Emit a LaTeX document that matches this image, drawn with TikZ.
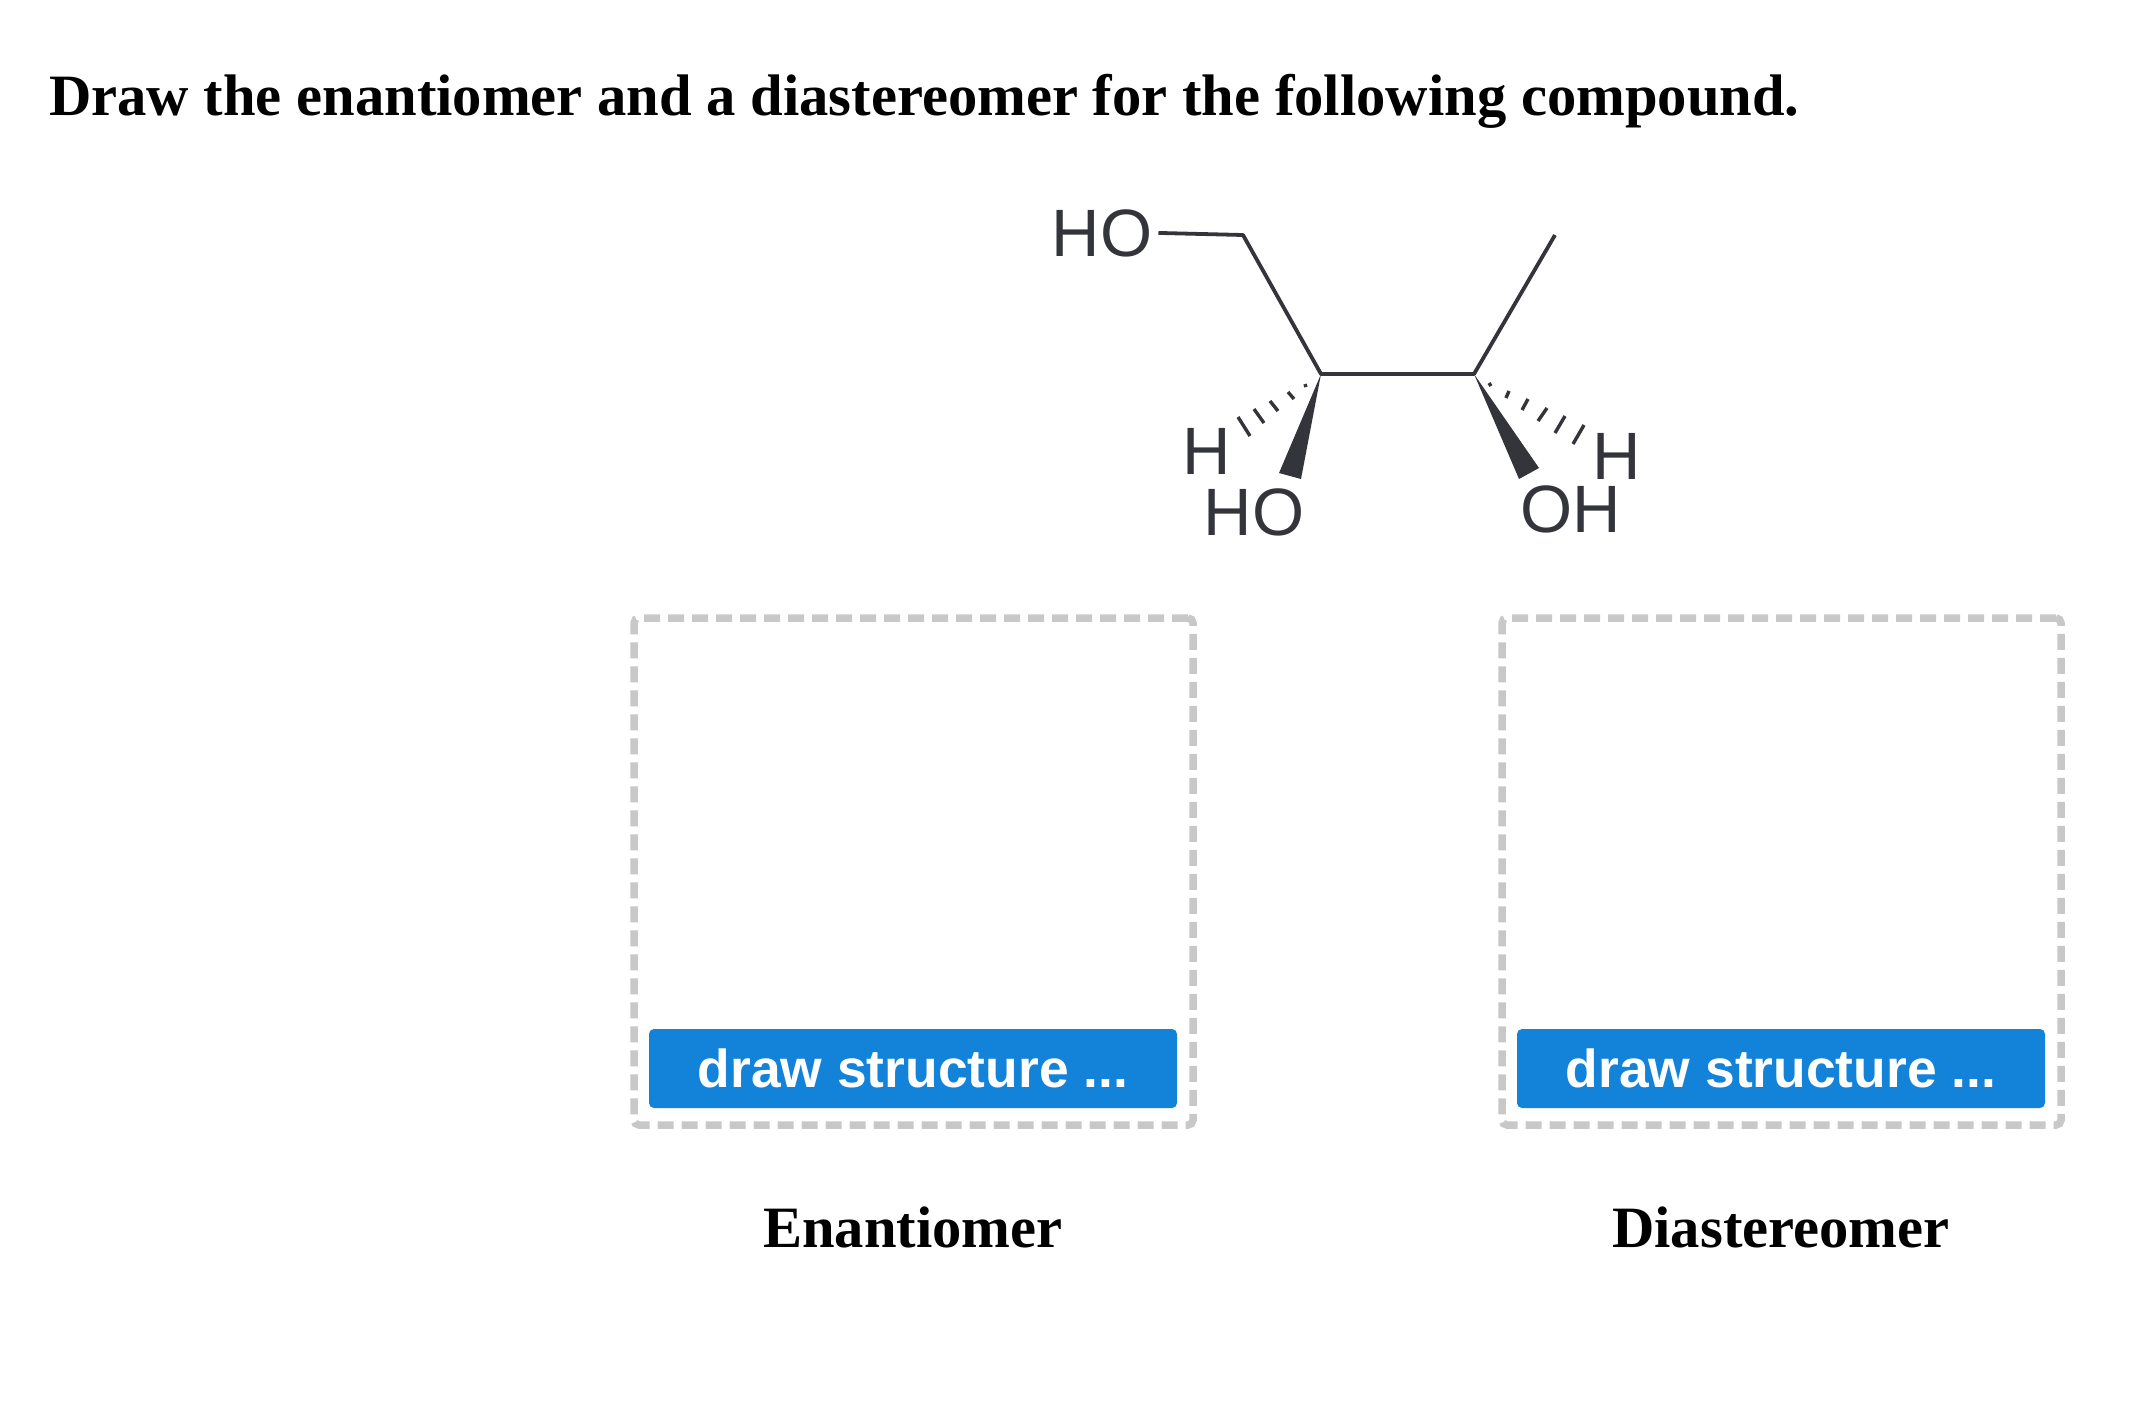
\documentclass[tikz,border=0pt]{standalone}
\usepackage{fontspec}
\setmainfont{Liberation Serif}
\setsansfont{Liberation Sans}
\definecolor{bondgray}{HTML}{33353A}
\definecolor{boxgray}{HTML}{C8C8C8}
\definecolor{btnblue}{HTML}{1283D9}
\tikzset{
	heading/.style={inner sep=0pt, font=\fontsize{58.6}{60}\selectfont\bfseries},
	atom/.style={inner sep=6pt, anchor=base, text=bondgray, font=\fontsize{67}{69}\selectfont\sffamily},
	bond/.style={draw=bondgray, line width=3.8pt},
	hash/.style={draw=bondgray, line width=3.4pt},
	answerbox/.style={draw=boxgray, line width=7.5pt, dash pattern=on 16pt off 8pt, rounded corners=5pt, minimum width=559pt, minimum height=507pt},
	drawbtn/.style={fill=btnblue, rounded corners=5pt, minimum width=528pt, minimum height=79pt, inner sep=0pt, text=white, font=\fontsize{53.4}{55}\selectfont\sffamily\bfseries}
}
\begin{document}
\begin{tikzpicture}[x=1pt, y=-1pt]
	\useasboundingbox (0,0) rectangle (2149,1422);
	\node[heading, anchor=base west] (title)at(49, 115) {Draw the enantiomer and a diastereomer for the following compound.};
	\coordinate (c1)at(1243, 235);
	\coordinate (c2)at(1321, 374);
	\coordinate (c3)at(1474, 374);
	\coordinate (c4)at(1555, 235);
	\coordinate (wl1)at(1279, 473);
	\coordinate (wl2)at(1301, 479);
	\coordinate (wr1)at(1539, 468);
	\coordinate (wr2)at(1519, 479);
	\node[atom] (HOa)at(1102, 256) {HO};
	\node[atom] (Hl)at(1207, 474) {H};
	\node[atom] (HOb)at(1254, 535) {HO};
	\node[atom] (Hr)at(1617, 479) {H};
	\node[atom] (OH)at(1571, 532) {OH};
	\draw[bond, line join=round] (HOa.east) -- (c1) -- (c2) -- (c3) -- (c4);
	\fill[bondgray] (c2) -- (wl1) -- (wl2) -- cycle;
	\fill[bondgray] (c3) -- (wr1) -- (wr2) -- cycle;
	\foreach \xa/\ya/\xb/\yb in {1305/384/1306/387, 1288/392/1294/399, 1270/401/1278/411, 1254/409/1264/423, 1238/417/1250/436,
		1489/383/1491/386, 1509/391/1506/398, 1528/399/1522/410, 1547/408/1538/421, 1565/416/1555/433, 1584/425/1573/444}
		\draw[hash] (\xa, \ya) -- (\xb, \yb);
	\node[answerbox] (boxE)at(913.5, 871.5) {};
	\node[answerbox] (boxD)at(1781.5, 871.5) {};
	\node[drawbtn] (btnE)at(913, 1068.5) {draw structure ...};
	\node[drawbtn] (btnD)at(1781, 1068.5) {draw structure ...};
	\node[heading, anchor=base] (labE)at(913, 1247) {Enantiomer};
	\node[heading, anchor=base] (labD)at(1781, 1247) {Diastereomer};
\end{tikzpicture}
\end{document}
